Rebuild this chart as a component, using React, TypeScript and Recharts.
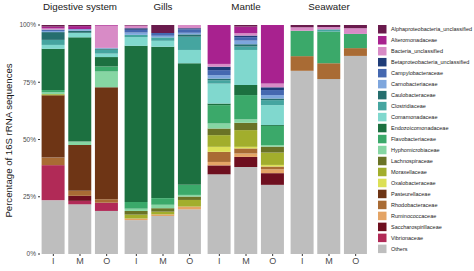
import { BarChart, Bar, XAxis, YAxis } from "recharts";

const taxa = [
  "Alphaproteobacteria_unclassified",
  "Alteromonadaceae",
  "Bacteria_unclassified",
  "Betaproteobacteria_unclassified",
  "Campylobacteraceae",
  "Carnobacteriaceae",
  "Caulobacteraceae",
  "Clostridiaceae",
  "Comamonadaceae",
  "Endozoicomonadaceae",
  "Flavobacteriaceae",
  "Hyphomicrobiaceae",
  "Lachnospiraceae",
  "Moraxellaceae",
  "Oxalobacteraceae",
  "Pasteurellaceae",
  "Rhodobacteraceae",
  "Ruminococcaceae",
  "Saccharospirillaceae",
  "Vibrionaceae",
  "Others",
];

const taxaColors = [
  "#6a1b4d", "#a8228f", "#d88bc6", "#1f3c78", "#4568b0", "#7ea6dd", "#256e6e",
  "#45a5a0", "#80d8ce", "#1c7040", "#3ba96a", "#86d6a3", "#6a7326", "#a2ae2c",
  "#dce056", "#6e3515", "#a96b34", "#e4a465", "#6e0f1f", "#b12a57", "#bebebe",
];

const samples = ["I", "M", "O"];
const tissues = ["Digestive system", "Gills", "Mantle", "Seawater"];
const yTicks = [0, 25, 50, 75, 100];

// percentages, same order as taxa
const digestiveI = [0.7, 0.8, 0.5, 0, 0.6, 0.5, 3.4, 2.2, 1.7, 18.0, 1.0, 0.8, 0, 0.5, 0, 27.2, 3.3, 0, 0, 15.3, 23.5];
const digestiveM = [0.5, 1.3, 0, 0, 0, 0.7, 0.9, 0, 2.0, 45.5, 0, 1.5, 0, 0, 0, 20.0, 2.2, 0, 2.2, 1.5, 21.7];
const digestiveO = [0, 0.3, 9.7, 0, 0, 0.3, 0.5, 1.7, 1.5, 4.1, 2.2, 6.9, 0, 0, 0, 48.9, 1.5, 0, 0, 3.6, 18.8];
const gillsI = [0.2, 0.2, 1.0, 0.7, 1.2, 1.0, 0, 1.0, 3.8, 68.2, 2.9, 1.0, 1.6, 1.7, 0, 0, 0, 0.7, 0, 0, 14.8];
const gillsM = [3.5, 0, 0, 0, 1.2, 0.7, 0, 1.5, 2.6, 66.1, 2.9, 1.5, 1.5, 1.2, 0, 0, 0, 0.7, 0, 0, 16.6];
const gillsO = [0, 0, 1.4, 0.5, 1.5, 0.7, 1.0, 5.8, 5.8, 53.1, 4.4, 0.7, 1.5, 2.9, 0, 0, 0, 1.2, 0, 0, 19.5];
const mantleI = [0, 17.0, 1.2, 1.5, 2.2, 1.5, 0.7, 1.5, 8.7, 0.7, 8.0, 2.2, 2.9, 5.1, 2.2, 0, 4.4, 1.5, 3.9, 0, 34.8];
const mantleM = [0.7, 2.9, 1.0, 0.7, 1.5, 1.6, 1.0, 1.5, 15.3, 4.4, 10.6, 1.5, 3.2, 7.3, 0.7, 0, 2.2, 1.5, 4.4, 0, 38.0];
const mantleO = [0, 25.5, 1.7, 1.2, 2.2, 1.5, 0.7, 2.2, 8.7, 0.4, 8.3, 0.7, 2.6, 5.4, 0.7, 0, 1.2, 1.7, 5.1, 0, 30.2];
const seawaterI = [1.0, 0, 1.5, 0, 0, 0, 0, 0, 0, 0, 11.1, 0, 0, 0, 0, 0, 6.4, 0, 0, 0, 80.0];
const seawaterM = [0.9, 0, 1.0, 0, 0, 0, 0, 1.0, 0, 0, 13.8, 0, 0, 0, 0, 0, 6.9, 0, 0, 0, 76.4];
const seawaterO = [1.4, 0, 2.5, 0, 0, 0, 0, 0, 0, 0, 6.2, 0, 0, 0, 0, 0, 3.4, 0, 0, 0, 86.5];

const facetValues = [
  [digestiveI, digestiveM, digestiveO],
  [gillsI, gillsM, gillsO],
  [mantleI, mantleM, mantleO],
  [seawaterI, seawaterM, seawaterO],
];

const FONT = "'Liberation Sans', Arial, sans-serif";
const facetLeft = [40, 123, 206, 289];
const PANEL_W = 80;
const H = 271;

function buildRows(values: number[][]) {
  return samples.map((s, i) => {
    const row: Record<string, any> = { sample: s };
    taxa.forEach((t, k) => {
      row[t] = values[i][k];
    });
    return row;
  });
}

function Facet({ index }: { index: number }) {
  const first = index === 0;
  const yW = first ? 40 : 0;
  const data = buildRows(facetValues[index]);
  const order = [...taxa].reverse(); // Others at the bottom
  return (
    <div style={{ position: "absolute", left: facetLeft[index] - yW, top: 0 }}>
      <BarChart
        width={PANEL_W + yW}
        height={H}
        data={data}
        margin={{ top: 25, right: 0, bottom: 2, left: 0 }}
        barCategoryGap="6%"
      >
        <XAxis
          dataKey="sample"
          height={15}
          axisLine={false}
          tickLine={{ stroke: "#333333" }}
          tickSize={2}
          tick={{ fontSize: 9, fill: "#4d4d4d", fontFamily: FONT }}
          interval={0}
        />
        <YAxis
          hide={!first}
          width={yW}
          domain={[0, 100]}
          allowDataOverflow
          ticks={yTicks}
          tickFormatter={(v: number) => `${v}%`}
          axisLine={false}
          tickLine={{ stroke: "#333333" }}
          tickSize={2}
          tickMargin={2}
          tick={{ fontSize: 6.5, fill: "#4d4d4d", fontFamily: FONT }}
        />
        {order.map((t) => (
          <Bar
            key={t}
            dataKey={t}
            stackId="a"
            fill={taxaColors[taxa.indexOf(t)]}
            isAnimationActive={false}
          />
        ))}
      </BarChart>
      <div
        style={{
          position: "absolute",
          left: yW,
          top: 1,
          width: PANEL_W,
          textAlign: "center",
          fontFamily: FONT,
          fontSize: 9.8,
          color: "#1a1a1a",
        }}
      >
        {tissues[index]}
      </div>
    </div>
  );
}

export default function App() {
  return (
    <div
      style={{
        position: "absolute",
        left: 0,
        top: 0,
        width: 474,
        height: H,
        background: "#ffffff",
        overflow: "hidden",
      }}
    >
      {tissues.map((_, i) => (
        <Facet key={i} index={i} />
      ))}
      <svg width={474} height={H} style={{ position: "absolute", left: 0, top: 0, pointerEvents: "none" }}>
        <text
          transform="translate(11.5,140.5) rotate(-90)"
          textAnchor="middle"
          fontSize={9.6}
          fontFamily={FONT}
          fill="#1a1a1a"
        >
          Percentage of 16S rRNA sequences
        </text>
        {taxa.map((t, i) => {
          const cy = 29.2 + i * 10.98;
          return (
            <g key={t}>
              <rect x={378} y={cy - 4.2} width={8.5} height={8.5} fill={taxaColors[i]} />
              <text x={391} y={cy + 2} fontSize={5.5} fontFamily={FONT} fill="#1a1a1a">
                {t}
              </text>
            </g>
          );
        })}
      </svg>
    </div>
  );
}
